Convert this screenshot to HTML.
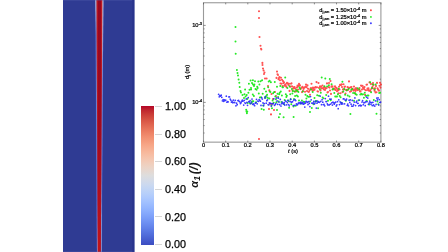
<!DOCTYPE html>
<html><head><meta charset="utf-8"><title>alpha1 and dj</title>
<style>
html,body{margin:0;padding:0;background:#fff;}
body{width:448px;height:252px;position:relative;overflow:hidden;font-family:"Liberation Sans",sans-serif;}
#panel{position:absolute;left:62.9px;top:0;width:71.6px;height:252px;background:#2f3b93;}
#cbar{position:absolute;left:141px;top:106px;width:13.2px;height:138.5px;background:linear-gradient(to bottom,rgb(180,4,38) 0.000%,rgb(192,40,47) 3.125%,rgb(203,62,56) 6.250%,rgb(213,80,66) 9.375%,rgb(222,96,77) 12.500%,rgb(229,112,88) 15.625%,rgb(236,127,99) 18.750%,rgb(241,141,111) 21.875%,rgb(244,154,123) 25.000%,rgb(247,166,135) 28.125%,rgb(247,177,148) 31.250%,rgb(247,187,160) 34.375%,rgb(245,196,173) 37.500%,rgb(241,204,185) 40.625%,rgb(236,211,197) 43.750%,rgb(229,216,209) 46.875%,rgb(221,221,221) 50.000%,rgb(213,219,230) 53.125%,rgb(204,217,238) 56.250%,rgb(194,213,244) 59.375%,rgb(184,208,249) 62.500%,rgb(174,201,253) 65.625%,rgb(163,194,255) 68.750%,rgb(152,185,255) 71.875%,rgb(141,176,254) 75.000%,rgb(130,165,251) 78.125%,rgb(119,154,247) 81.250%,rgb(108,142,241) 84.375%,rgb(98,130,234) 87.500%,rgb(87,117,225) 90.625%,rgb(77,104,215) 93.750%,rgb(68,90,204) 96.875%,rgb(59,76,192) 100.000%);}
.cl{position:absolute;left:165px;font-size:10.8px;line-height:10px;color:#000;-webkit-text-stroke:0.25px #000;letter-spacing:0;}
.ct{position:absolute;left:154.5px;width:7.5px;height:1px;background:#d6d6d6;}
#alab{position:absolute;left:194.3px;top:174.7px;width:0;height:0;}
#alab span{position:absolute;white-space:nowrap;transform:translate(-50%,-50%) rotate(-90deg);font-weight:bold;font-style:italic;font-size:11px;color:#1a1a1a;}
#alab i{font-size:12.5px;font-style:italic;margin-left:-1.5px;}
#alab sub{font-size:8.5px;vertical-align:baseline;position:relative;top:1.5px;}
svg{position:absolute;left:0;top:0;}
</style></head><body>
<div id="panel"></div>
<svg width="448" height="252" viewBox="0 0 448 252">
<defs>
<linearGradient id="sg" x1="0" x2="1" y1="0" y2="0">
<stop offset="0" stop-color="#d23a30"/><stop offset="0.13" stop-color="#c01c22"/><stop offset="0.32" stop-color="#980620"/><stop offset="0.68" stop-color="#980620"/><stop offset="0.87" stop-color="#c01c22"/><stop offset="1" stop-color="#d23a30"/>
</linearGradient>
<linearGradient id="hg" x1="0" x2="1" y1="0" y2="0">
<stop offset="0" stop-color="#2f3b93"/><stop offset="0.15" stop-color="#2c48b8"/><stop offset="0.85" stop-color="#2c48b8"/><stop offset="1" stop-color="#2f3b93"/>
</linearGradient>
<linearGradient id="wl" x1="0" x2="0" y1="0" y2="1">
<stop offset="0" stop-color="#e6e6ee" stop-opacity="1"/><stop offset="0.05" stop-color="#e6e6ee" stop-opacity="0.8"/><stop offset="0.14" stop-color="#dcdcf0" stop-opacity="0.4"/><stop offset="0.8" stop-color="#e0d8e8" stop-opacity="0.4"/><stop offset="1" stop-color="#f0dcdc" stop-opacity="0.7"/>
</linearGradient>
<linearGradient id="wr" x1="0" x2="0" y1="0" y2="1">
<stop offset="0" stop-color="#e6e6ee" stop-opacity="1"/><stop offset="0.1" stop-color="#e6e6ee" stop-opacity="0.8"/><stop offset="0.25" stop-color="#e8dce4" stop-opacity="0.45"/><stop offset="0.8" stop-color="#e8dce4" stop-opacity="0.45"/><stop offset="1" stop-color="#f0dcdc" stop-opacity="0.7"/>
</linearGradient>
<linearGradient id="br" x1="0" x2="0" y1="0" y2="1">
<stop offset="0" stop-color="#dc1c18" stop-opacity="0"/><stop offset="0.5" stop-color="#dc1c18" stop-opacity="0.12"/><stop offset="1" stop-color="#dc1c18" stop-opacity="0.6"/>
</linearGradient>
</defs>
<polygon points="94.8,0 103.8,0 102.0,252 96.6,252" fill="url(#hg)"/>
<polygon points="95.4,0 96.5,0 97.8,252 97.0,252" fill="url(#wl)"/>
<polygon points="102.3,0 103.4,0 101.6,252 100.8,252" fill="url(#wr)"/>
<polygon points="96.4,0 102.4,0 100.8,252 97.8,252" fill="url(#sg)"/>
<polygon points="96.4,0 102.4,0 100.8,252 97.8,252" fill="url(#br)"/>
<rect x="63" y="0" width="69.3" height="1" fill="#5560b0" opacity="0.3"/>
<rect x="132.3" y="0" width="2.3" height="252" fill="#28348c"/>
<rect x="63" y="250.9" width="69.3" height="1.1" fill="#5560b0" opacity="0.3"/>
<rect x="203.5" y="2.75" width="177.4" height="139.4" fill="none" stroke="#9a9a9a" stroke-width="1.1"/>
<path d="M203.5 142.2v-1.6M203.5 2.75v1.6M225.7 142.2v-1.6M225.7 2.75v1.6M247.8 142.2v-1.6M247.8 2.75v1.6M270.0 142.2v-1.6M270.0 2.75v1.6M292.2 142.2v-1.6M292.2 2.75v1.6M314.4 142.2v-1.6M314.4 2.75v1.6M336.5 142.2v-1.6M336.5 2.75v1.6M358.7 142.2v-1.6M358.7 2.75v1.6M380.9 142.2v-1.6M380.9 2.75v1.6M203.5 133.0h1.1M380.9 133.0h-1.1M203.5 125.6h1.1M380.9 125.6h-1.1M203.5 119.5h1.1M380.9 119.5h-1.1M203.5 114.3h1.1M380.9 114.3h-1.1M203.5 109.9h1.1M380.9 109.9h-1.1M203.5 105.9h1.1M380.9 105.9h-1.1M203.5 102.4h2.2M380.9 102.4h-2.2M203.5 79.2h1.1M380.9 79.2h-1.1M203.5 65.7h1.1M380.9 65.7h-1.1M203.5 56.0h1.1M380.9 56.0h-1.1M203.5 48.6h1.1M380.9 48.6h-1.1M203.5 42.5h1.1M380.9 42.5h-1.1M203.5 37.3h1.1M380.9 37.3h-1.1M203.5 32.9h1.1M380.9 32.9h-1.1M203.5 28.9h1.1M380.9 28.9h-1.1M203.5 25.4h2.2M380.9 25.4h-2.2" stroke="#444" stroke-width="0.6" fill="none"/>
<path d="M259.0 11.3h0M259.0 18.0h0M259.5 37.0h0M260.5 45.8h0M261.0 48.8h0M261.3 49.4h0M262.4 62.9h0M262.5 65.0h0M263.0 68.5h0M264.5 72.5h0M264.0 74.0h0M265.0 78.5h0M266.6 78.5h0M263.6 70.5h0M269.3 90.4h0M270.0 104.0h0M269.0 109.0h0M271.0 114.4h0M272.0 104.0h0M274.0 110.0h0M259.0 139.0h0M268.0 86.0h0M271.5 94.0h0M273.0 99.0h0M275.0 92.0h0M276.0 96.0h0M276.5 77.9h0M277.0 71.6h0M277.5 74.2h0M278.0 75.0h0M278.5 79.2h0M279.0 78.1h0M279.5 77.1h0M280.0 80.2h0M280.5 83.5h0M281.0 77.8h0M281.5 83.7h0M282.0 79.7h0M282.5 86.0h0M283.0 81.1h0M283.5 83.1h0M284.0 82.4h0M284.5 85.7h0M285.0 84.9h0M285.5 84.2h0M286.0 86.1h0M286.5 87.1h0M287.0 82.9h0M287.5 83.4h0M288.0 83.5h0M288.5 84.9h0M289.0 83.7h0M289.5 90.9h0M290.0 86.7h0M290.5 86.7h0M291.0 83.8h0M291.5 83.3h0M292.0 86.2h0M292.5 90.8h0M293.0 88.8h0M293.5 87.2h0M294.0 88.3h0M294.5 87.0h0M295.0 91.5h0M295.5 88.6h0M296.0 91.5h0M296.5 90.5h0M297.0 87.2h0M297.5 85.6h0M298.0 89.6h0M298.5 86.0h0M299.0 83.9h0M299.5 85.2h0M300.0 85.4h0M300.5 89.1h0M301.0 88.6h0M301.5 87.8h0M302.0 92.1h0M302.5 86.9h0M303.0 91.0h0M303.5 88.9h0M304.0 88.1h0M304.5 87.6h0M305.0 91.7h0M305.5 86.7h0M306.0 84.6h0M306.5 87.3h0M307.0 91.0h0M307.5 85.4h0M308.0 88.7h0M308.5 92.0h0M309.0 91.7h0M309.5 90.3h0M310.0 94.7h0M310.5 88.6h0M311.0 88.0h0M311.5 83.7h0M312.0 89.3h0M312.5 90.8h0M313.0 87.6h0M313.5 88.0h0M314.0 89.9h0M314.5 89.8h0M315.0 87.6h0M315.5 87.0h0M316.0 87.5h0M316.5 82.1h0M317.0 87.2h0M317.5 91.3h0M318.0 91.6h0M318.5 83.0h0M319.0 87.9h0M319.5 87.7h0M320.0 86.4h0M320.5 90.5h0M321.0 86.5h0M321.5 88.4h0M322.0 88.2h0M322.5 85.5h0M323.0 88.3h0M323.5 87.7h0M324.0 89.5h0M324.5 87.0h0M325.0 90.0h0M325.5 88.3h0M326.0 88.1h0M326.5 88.2h0M327.0 83.4h0M327.5 92.4h0M328.0 92.1h0M328.5 87.0h0M329.0 83.0h0M329.5 87.6h0M330.0 90.5h0M330.5 81.0h0M331.0 93.9h0M331.5 86.2h0M332.0 86.9h0M332.5 86.4h0M333.0 89.1h0M333.5 89.3h0M334.0 88.5h0M334.5 89.2h0M335.0 86.4h0M335.5 89.9h0M336.0 87.5h0M336.5 87.9h0M337.0 91.2h0M337.5 89.1h0M338.0 90.4h0M338.5 93.2h0M339.0 86.8h0M339.5 89.5h0M340.0 84.9h0M340.5 93.3h0M341.0 85.1h0M341.5 84.4h0M342.0 87.0h0M342.5 92.1h0M343.0 89.4h0M343.5 84.2h0M344.0 89.5h0M344.5 86.9h0M345.0 86.6h0M345.5 93.6h0M346.0 89.9h0M346.5 90.2h0M347.0 90.2h0M347.5 87.0h0M348.0 89.9h0M348.5 87.7h0M349.0 81.4h0M349.5 88.0h0M350.0 91.8h0M350.5 87.2h0M351.0 91.2h0M351.5 87.0h0M352.0 89.1h0M352.5 89.1h0M353.0 89.7h0M353.5 90.6h0M354.0 86.6h0M354.5 89.2h0M355.0 93.5h0M355.5 90.9h0M356.0 88.1h0M356.5 89.2h0M357.0 89.5h0M357.5 90.1h0M358.0 89.4h0M358.5 89.8h0M359.0 89.2h0M359.5 88.0h0M360.0 91.4h0M360.5 91.4h0M361.0 85.5h0M361.5 86.0h0M362.0 89.5h0M362.5 85.8h0M363.0 87.8h0M363.5 87.7h0M364.0 89.0h0M364.5 87.1h0M365.0 94.7h0M365.5 90.3h0M366.0 90.3h0M366.5 84.8h0M367.0 84.6h0M367.5 88.6h0M368.0 90.1h0M368.5 88.2h0M369.0 90.7h0M369.5 82.4h0M370.0 90.3h0M370.5 91.2h0M371.0 84.1h0M371.5 88.8h0M372.0 88.3h0M372.5 86.9h0M373.0 83.1h0M373.5 84.9h0M374.0 88.8h0M374.5 90.7h0M375.0 88.2h0M375.5 92.4h0M376.0 86.1h0M376.5 92.3h0M377.0 82.9h0M377.5 88.2h0M378.0 89.4h0M378.5 89.9h0M379.0 90.7h0M379.5 85.7h0M380.0 82.8h0M380.5 87.6h0M381.0 84.6h0" stroke="#ff2020" stroke-width="2.1" stroke-linecap="round" fill="none" opacity="0.78"/>
<path d="M235.5 27.0h0M235.5 41.5h0M235.7 53.8h0M236.9 69.9h0M237.5 72.9h0M238.0 75.6h0M238.6 79.6h0M239.3 82.7h0M239.7 87.0h0M240.5 91.0h0M241.0 92.5h0M242.5 95.0h0M244.0 98.0h0M246.9 113.3h0M246.5 111.5h0M247.3 111.5h0M252.9 80.3h0M252.0 83.0h0M254.0 86.0h0M251.0 88.0h0M253.0 84.5h0M269.6 80.7h0M278.9 117.3h0M280.0 114.0h0M277.0 110.0h0M293.6 117.0h0M310.0 112.0h0M244.5 94.3h0M245.1 89.5h0M245.6 96.5h0M246.2 109.7h0M246.7 94.9h0M247.3 99.0h0M247.8 103.0h0M248.4 92.8h0M248.9 83.8h0M249.5 89.8h0M250.0 103.6h0M250.6 80.5h0M251.1 89.4h0M251.7 103.1h0M252.2 101.2h0M252.8 94.6h0M253.3 101.3h0M253.9 95.9h0M254.4 84.5h0M255.0 81.2h0M255.5 89.1h0M256.1 102.3h0M256.6 89.7h0M257.2 86.8h0M257.7 87.9h0M258.3 81.5h0M258.8 93.5h0M259.4 84.5h0M259.9 97.6h0M260.5 81.2h0M261.0 97.3h0M261.6 109.0h0M262.1 80.3h0M262.7 93.8h0M263.2 105.4h0M263.8 109.7h0M264.3 88.8h0M264.9 97.3h0M265.4 97.8h0M266.0 91.4h0M266.5 95.7h0M267.1 94.7h0M267.6 97.8h0M268.2 87.3h0M268.7 81.5h0M269.3 98.4h0M269.8 91.5h0M270.4 91.9h0M270.9 82.3h0M271.5 105.5h0M272.0 108.3h0M272.6 100.4h0M273.1 93.3h0M273.7 102.7h0M274.2 92.0h0M274.8 82.0h0M275.3 96.6h0M275.9 99.3h0M276.4 102.2h0M277.0 86.8h0M277.5 93.7h0M278.1 97.0h0M278.6 101.5h0M279.2 94.2h0M279.7 92.8h0M280.3 85.9h0M280.8 91.4h0M281.4 102.1h0M281.9 95.4h0M282.5 87.2h0M283.0 87.3h0M283.6 117.2h0M284.1 104.2h0M284.7 99.9h0M285.2 77.6h0M285.8 94.3h0M286.3 96.9h0M286.9 95.7h0M287.4 87.9h0M288.0 100.6h0M288.5 101.0h0M289.1 107.8h0M289.6 86.2h0M290.2 94.2h0M290.7 99.3h0M291.3 104.2h0M291.8 89.1h0M292.4 93.4h0M292.9 91.0h0M293.5 106.6h0M294.0 99.1h0M294.6 91.6h0M295.1 96.0h0M295.7 105.7h0M296.2 89.9h0M296.8 95.6h0M297.3 91.1h0M297.9 96.5h0M298.4 92.0h0M299.0 100.6h0M299.5 87.4h0M300.1 88.8h0M301.0 103.6h0M301.9 100.5h0M302.8 91.5h0M303.7 101.7h0M304.6 102.0h0M305.5 94.8h0M306.4 98.6h0M307.3 95.9h0M308.2 96.8h0M309.1 96.7h0M310.0 101.5h0M310.9 89.6h0M311.8 108.0h0M312.7 92.0h0M313.6 104.2h0M314.5 97.9h0M315.4 101.6h0M316.3 100.9h0M317.2 95.2h0M318.1 108.3h0M319.0 95.8h0M319.9 89.3h0M320.8 92.8h0M321.7 77.6h0M322.6 97.6h0M323.5 98.3h0M324.4 86.3h0M325.3 78.4h0M326.2 95.0h0M327.1 86.6h0M328.0 100.8h0M328.9 85.3h0M329.8 79.1h0M330.7 100.3h0M331.6 84.3h0M332.5 89.5h0M333.4 88.7h0M334.3 93.1h0M335.2 96.6h0M336.1 96.5h0M337.0 96.6h0M337.9 94.2h0M338.8 88.7h0M339.7 96.1h0M340.6 97.2h0M341.5 102.7h0M342.4 81.8h0M343.3 91.6h0M344.2 89.1h0M345.1 94.8h0M345.9 100.7h0M346.8 90.3h0M347.7 95.6h0M348.6 89.0h0M349.5 96.5h0M350.4 114.0h0M351.3 89.7h0M352.2 89.1h0M353.1 92.9h0M354.0 100.8h0M354.9 93.1h0M355.8 94.3h0M356.7 94.8h0M357.6 88.2h0M358.5 100.3h0M359.4 89.5h0M360.3 94.4h0M361.2 93.8h0M362.1 94.5h0M363.0 94.2h0M363.9 97.7h0M364.8 92.7h0M365.7 95.8h0M366.6 100.8h0M367.5 95.4h0M368.4 95.6h0M369.3 104.4h0M370.2 82.2h0M371.1 92.2h0M372.0 88.0h0M372.9 84.6h0M373.8 99.9h0M374.7 89.4h0M375.6 84.5h0M376.5 113.8h0M377.4 101.6h0M378.3 104.2h0M379.2 93.1h0M380.1 92.7h0" stroke="#10e810" stroke-width="2.0" stroke-linecap="round" fill="none" opacity="0.9"/>
<path d="M218.6 94.3h0M219.2 96.8h0M219.9 95.7h0M220.5 96.1h0M221.2 95.2h0M221.8 97.3h0M222.4 100.8h0M223.1 99.6h0M223.7 101.3h0M224.4 99.8h0M225.0 100.5h0M225.7 100.2h0M226.3 96.2h0M226.9 102.2h0M227.6 101.6h0M228.2 101.8h0M228.9 96.9h0M229.5 96.9h0M230.2 99.0h0M230.8 100.1h0M231.4 102.0h0M232.1 101.3h0M232.7 102.7h0M233.4 100.1h0M234.0 102.4h0M234.7 102.6h0M235.3 100.3h0M235.9 105.8h0M236.6 103.2h0M237.2 104.7h0M237.9 100.6h0M238.5 100.3h0M239.2 101.3h0M239.8 101.8h0M240.4 103.6h0M241.1 102.7h0M241.7 101.1h0M242.4 100.0h0M243.0 101.0h0M243.7 105.0h0M244.3 100.4h0M244.9 102.8h0M245.6 103.3h0M246.2 98.9h0M246.9 102.4h0M247.5 105.3h0M248.2 97.7h0M248.8 101.6h0M249.4 102.1h0M250.1 100.5h0M250.7 103.5h0M251.4 102.2h0M252.0 99.0h0M252.7 104.3h0M253.3 103.9h0M253.9 104.5h0M254.6 105.7h0M255.2 103.2h0M255.9 102.6h0M256.5 99.4h0M257.2 103.8h0M257.8 101.0h0M258.4 101.3h0M259.1 99.5h0M259.7 100.2h0M260.4 101.2h0M261.0 105.4h0M261.7 97.7h0M262.3 99.0h0M263.0 102.9h0M263.6 105.7h0M264.2 103.7h0M264.9 98.0h0M265.5 96.6h0M266.2 103.2h0M266.8 100.7h0M267.5 99.8h0M268.1 104.6h0M268.7 104.9h0M269.4 102.8h0M270.0 103.0h0M270.7 103.4h0M271.3 106.1h0M272.0 103.8h0M272.6 103.6h0M273.2 103.7h0M273.9 98.8h0M274.5 105.3h0M275.2 104.6h0M275.8 103.6h0M276.5 97.9h0M277.1 100.9h0M277.7 104.3h0M278.4 98.2h0M279.0 102.0h0M279.7 104.7h0M280.3 99.4h0M281.0 106.1h0M281.6 103.7h0M282.2 102.1h0M282.9 103.1h0M283.5 103.9h0M284.2 102.7h0M284.8 105.0h0M285.5 100.9h0M286.1 101.4h0M286.7 104.8h0M287.4 102.5h0M288.0 100.4h0M288.7 104.6h0M289.3 105.8h0M290.0 101.4h0M290.6 99.2h0M291.2 102.1h0M291.9 102.1h0M292.5 101.7h0M293.2 105.6h0M293.8 100.0h0M294.5 105.3h0M295.1 99.5h0M295.7 100.6h0M296.4 103.9h0M297.0 105.0h0M297.7 104.4h0M298.3 103.2h0M299.0 102.7h0M299.6 102.8h0M300.2 103.7h0M300.9 102.0h0M301.5 103.0h0M302.2 103.7h0M302.8 102.4h0M303.5 104.2h0M304.1 103.7h0M304.8 107.0h0M305.4 103.1h0M306.0 101.4h0M306.7 101.5h0M307.3 102.4h0M308.0 104.5h0M308.6 101.6h0M309.3 103.3h0M309.9 106.6h0M310.5 96.5h0M311.2 99.8h0M311.8 103.0h0M312.5 103.3h0M313.1 102.9h0M313.8 101.4h0M314.4 103.9h0M315.0 103.0h0M315.7 101.2h0M316.3 108.0h0M317.0 103.2h0M317.6 101.1h0M318.3 102.2h0M318.9 101.9h0M319.5 102.3h0M320.2 96.1h0M320.8 101.3h0M321.5 104.7h0M322.1 99.7h0M322.8 102.2h0M323.4 104.6h0M324.0 104.4h0M324.7 105.8h0M325.3 98.5h0M326.0 101.6h0M326.6 101.6h0M327.3 103.8h0M327.9 104.9h0M328.5 96.2h0M329.2 104.9h0M329.8 99.1h0M330.5 104.0h0M331.1 99.0h0M331.8 102.8h0M332.4 105.1h0M333.0 102.1h0M333.7 102.8h0M334.3 104.2h0M335.0 102.7h0M335.6 102.2h0M336.3 105.9h0M336.9 104.8h0M337.5 101.7h0M338.2 108.7h0M338.8 99.8h0M339.5 104.5h0M340.1 101.8h0M340.8 102.7h0M341.4 104.0h0M342.0 102.9h0M342.7 103.9h0M343.3 98.9h0M344.0 98.9h0M344.6 103.8h0M345.3 100.2h0M345.9 100.0h0M346.6 99.0h0M347.2 105.3h0M347.8 104.1h0M348.5 105.8h0M349.1 100.2h0M349.8 102.4h0M350.4 99.8h0M351.1 104.2h0M351.7 106.1h0M352.3 100.4h0M353.0 106.0h0M353.6 104.7h0M354.3 102.0h0M354.9 97.9h0M355.6 105.6h0M356.2 102.2h0M356.8 101.0h0M357.5 103.3h0M358.1 103.3h0M358.8 105.8h0M359.4 100.1h0M360.1 105.0h0M360.7 105.8h0M361.3 105.7h0M362.0 102.0h0M362.6 100.7h0M363.3 104.7h0M363.9 102.7h0M364.6 102.7h0M365.2 105.7h0M365.8 101.8h0M366.5 97.1h0M367.1 101.5h0M367.8 98.1h0M368.4 104.3h0M369.1 103.1h0M369.7 101.0h0M370.3 102.4h0M371.0 104.3h0M371.6 102.6h0M372.3 105.5h0M372.9 102.3h0M373.6 104.8h0M374.2 105.8h0M374.8 106.1h0M375.5 100.9h0M376.1 104.4h0M376.8 98.1h0M377.4 99.9h0M378.1 97.9h0M378.7 104.9h0M379.3 99.6h0M380.0 102.4h0M380.6 102.0h0" stroke="#2020ff" stroke-width="1.75" stroke-linecap="round" fill="none" opacity="0.88"/>
<g font-family="Liberation Sans, sans-serif" font-size="5.7" fill="#000" stroke="#000" stroke-width="0.22">
<text x="203.5" y="147.2" text-anchor="middle">0</text>
<text x="225.7" y="147.2" text-anchor="middle">0.1</text>
<text x="247.8" y="147.2" text-anchor="middle">0.2</text>
<text x="270.0" y="147.2" text-anchor="middle">0.3</text>
<text x="292.2" y="147.2" text-anchor="middle">0.4</text>
<text x="314.4" y="147.2" text-anchor="middle">0.5</text>
<text x="336.5" y="147.2" text-anchor="middle">0.6</text>
<text x="358.7" y="147.2" text-anchor="middle">0.7</text>
<text x="380.9" y="147.2" text-anchor="middle">0.8</text>
<text x="293" y="152.7" text-anchor="middle"><tspan font-style="italic">t</tspan> (s)</text>
<text x="202.2" y="27.2" text-anchor="end">10<tspan dy="-1.8" font-size="4.2">-3</tspan></text>
<text x="202.2" y="104.2" text-anchor="end">10<tspan dy="-1.8" font-size="4.2">-4</tspan></text>
<text transform="translate(189.2,72) rotate(-90)" text-anchor="middle">d<tspan dy="1" font-size="4.2">j</tspan><tspan dy="-1"> (m)</tspan></text>
<text x="366.5" y="12" text-anchor="end">d<tspan dy="1.2" font-size="4.2">j,an</tspan><tspan dy="-1.2"> = 1.50×10</tspan><tspan dy="-1.8" font-size="4.2">-4</tspan><tspan dy="1.8"> m</tspan></text>
<text x="366.5" y="18.6" text-anchor="end">d<tspan dy="1.2" font-size="4.2">j,an</tspan><tspan dy="-1.2"> = 1.25×10</tspan><tspan dy="-1.8" font-size="4.2">-4</tspan><tspan dy="1.8"> m</tspan></text>
<text x="366.5" y="25.2" text-anchor="end">d<tspan dy="1.2" font-size="4.2">j,an</tspan><tspan dy="-1.2"> = 1.00×10</tspan><tspan dy="-1.8" font-size="4.2">-4</tspan><tspan dy="1.8"> m</tspan></text>
</g>
<path d="M370.9 10.3h0" stroke="#ff2020" stroke-width="1.9" stroke-linecap="round" opacity="0.88"/>
<path d="M370.9 16.9h0" stroke="#10e810" stroke-width="1.9" stroke-linecap="round" opacity="0.88"/>
<path d="M370.9 23.3h0" stroke="#2020ff" stroke-width="1.9" stroke-linecap="round" opacity="0.88"/>
</svg>
<div id="cbar"></div>
<div class="ct" style="top:105.9px"></div><div class="cl" style="top:101.2px">1.00</div>
<div class="ct" style="top:133.5px"></div><div class="cl" style="top:128.8px">0.80</div>
<div class="ct" style="top:161.1px"></div><div class="cl" style="top:156.4px">0.60</div>
<div class="ct" style="top:188.7px"></div><div class="cl" style="top:184.0px">0.40</div>
<div class="ct" style="top:216.3px"></div><div class="cl" style="top:211.6px">0.20</div>
<div class="ct" style="top:243.9px"></div><div class="cl" style="top:239.2px">0.00</div>
<div id="alab"><span>α<sub>1</sub><i> (/)</i></span></div>
</body></html>
